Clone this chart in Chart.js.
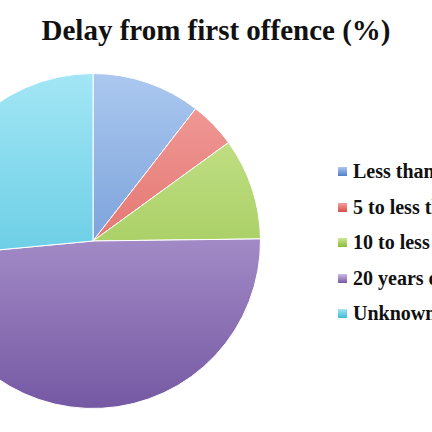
<!DOCTYPE html>
<html>
<head>
<meta charset="utf-8">
<script src="https://cdn.jsdelivr.net/npm/chart.js@4"></script>
<style>
  html, body { margin: 0; padding: 0; width: 432px; height: 432px; overflow: hidden; background: #fff; }
  #title { position: absolute; left: 0; width: 432px; top: 14px; text-align: center; font: bold 29px "Liberation Serif", "DejaVu Serif", serif; color: #111; white-space: nowrap; }
  #wrap { position: absolute; left: -77px; top: 71px; width: 340px; height: 340px; }
  #legend { position: absolute; left: 338px; top: 154px; font: bold 20px "Liberation Serif", "DejaVu Serif", serif; color: #111; white-space: nowrap; }
  .item { height: 35.5px; display: flex; align-items: center; }
  .box { width: 9px; height: 9px; margin-right: 6px; }
</style>
</head>
<body>
<div id="title">Delay from first offence (%)</div>
<div id="wrap"><canvas id="pie"></canvas></div>
<div id="legend"></div>
<script>
const labels = ['Less than 5 years', '5 to less than 10 years', '10 to less than 20 years', '20 years or more', 'Unknown'];
const values = [10.5, 4.5, 9.8, 48.7, 26.5];
const lightColors = ['#abc8ef', '#f2a09d', '#cde794', '#cdbbe8', '#a3e6f5'];
const darkColors = ['#4f7fc9', '#d84e4a', '#8aba3c', '#7558a3', '#3dbbd9'];

const legend = document.getElementById('legend');
labels.forEach((l, i) => {
    const d = document.createElement('div');
    d.className = 'item';
    d.innerHTML = '<span class="box" style="background:linear-gradient(' + lightColors[i] + ',' + darkColors[i] + ')"></span>' + l;
    legend.appendChild(d);
});

function fill(context) {
    const chart = context.chart;
    const area = chart.chartArea;
    if (!area) return darkColors[context.dataIndex];
    const g = chart.ctx.createLinearGradient(0, area.top, 0, area.bottom);
    g.addColorStop(0, lightColors[context.dataIndex]);
    g.addColorStop(1, darkColors[context.dataIndex]);
    return g;
}

new Chart(document.getElementById('pie'), {
    type: 'pie',
    data: { labels: labels, datasets: [{ data: values, backgroundColor: fill, borderColor: '#ffffff', borderWidth: 1 }] },
    options: {
        responsive: true,
        maintainAspectRatio: false,
        animation: false,
        layout: { padding: 2 },
        plugins: { legend: { display: false }, tooltip: { enabled: false } }
    }
});
</script>
</body>
</html>
